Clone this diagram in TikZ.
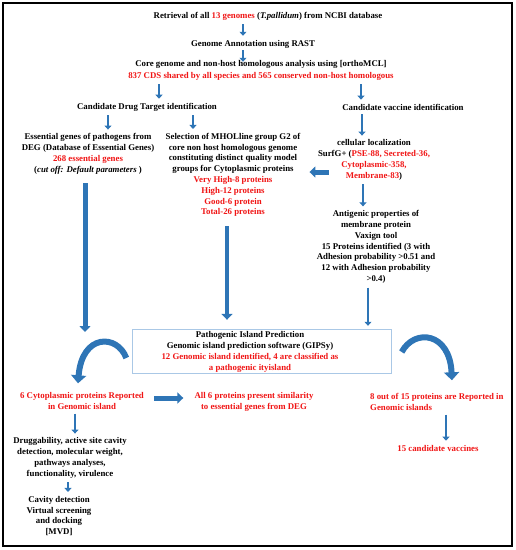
\documentclass[tikz,border=0pt]{standalone}
\usepackage{fontspec}
\setmainfont{Liberation Serif}
\usetikzlibrary{arrows.meta,positioning}
\definecolor{arrblue}{RGB}{46,117,182}
\definecolor{hired}{RGB}{240,20,20}
\definecolor{boxblue}{RGB}{170,200,230}

\begin{document}
\begin{tikzpicture}[x=1pt,y=-1pt,
    txt/.style={font=\bfseries\fontsize{8.8}{10.8}\selectfont, align=center, inner sep=1pt},
    hl/.style={txt, text=hired},
    arr/.style={arrblue, line width=2.6pt, shorten <=3pt, shorten >=3pt, -{Triangle[length=4pt,width=7pt]}},
    fatarr/.style={arrblue, line width=5pt, -{Triangle[length=6pt,width=11pt]}},
    bendarr/.style={arrblue, line width=6pt, -{Triangle[length=8pt,width=15pt]}},
    gipbox/.style={draw=boxblue, thin, minimum width=259pt, minimum height=44pt}
]
    \useasboundingbox (0,0) rectangle (516,550);
    \draw[line width=2pt] (3,3) rectangle (512,546);

    % Pipeline head
    \node[txt] (r1) at (268,16) {Retrieval of all \textcolor{hired}{13 genomes} (\textit{T.pallidum}) from NCBI database};
    \node[txt] (r2) at (253,44) {Genome Annotation using RAST};
    \node[txt, font=\bfseries\fontsize{8.8}{12}\selectfont] (r3) at (261,70)
        {Core genome and non-host homologous analysis using [orthoMCL]\\
         \textcolor{hired}{837 CDS shared by all species and 565 conserved non-host homologous}};

    % Two branches
    \node[txt] (dt) at (147,107) {Candidate Drug Target identification};
    \node[txt] (vc) at (403,107) {Candidate vaccine identification};

    % Drug target branch
    \node[txt] (eg) at (88,154) {Essential genes of pathogens from\\DEG (Database of  Essential Genes)\\
        \textcolor{hired}{268 essential genes}\\(\textit{cut off: Default parameters} )};
    \node[txt] (sel) at (233,175) {Selection of MHOLline group G2 of\\core non host homologous genome\\
        constituting distinct quality model\\groups  for  Cytoplasmic proteins\\
        \textcolor{hired}{Very High-8 proteins}\\\textcolor{hired}{High-12 proteins}\\
        \textcolor{hired}{Good-6 protein}\\\textcolor{hired}{Total-26 proteins}};

    % Vaccine branch
    \node[txt] (surf) at (374,160) {cellular localization\\SurfG+ (\textcolor{hired}{PSE-88,  Secreted-36,}\\
        \textcolor{hired}{Cytoplasmic-358,}\\\textcolor{hired}{Membrane-83})};
    \node[txt] (ant) at (376,247) {Antigenic properties of\\membrane protein\\Vaxign tool\\
        15 Proteins identified (3 with\\Adhesion probability >0.51 and\\12 with Adhesion probability\\>0.4)};

    % Island prediction
    \node[gipbox] (gip) at (262,351) {};
    \node[txt] (giptxt) at (250,352) {Pathogenic Island  Prediction\\Genomic island prediction software (GIPSy)\\
        \textcolor{hired}{12 Genomic island identified, 4 are classified as}\\\textcolor{hired}{a pathogenic ityisland}};

    % Results
    \node[hl] (cyt) at (82,401) {6 Cytoplasmic proteins Reported\\in Genomic island};
    \node[hl] (sim) at (254,402) {All 6 proteins  present similarity\\to essential genes from DEG};
    \node[hl, align=left, anchor=west] (eight) at (369,402) {8 out of 15 proteins are Reported in\\Genomic islands};
    \node[txt] (drug) at (70,458) {Druggability, active site cavity\\detection, molecular weight,\\
        pathways analyses,\\functionality, virulence};
    \node[txt] (cav) at (59,516) {Cavity detection\\Virtual screening\\and docking\\{}[MVD]};
    \node[hl] (cand) at (438,448) {15 candidate vaccines};

    % Arrows
    \draw[arr] ([xshift=-25]r1.south) -- ([xshift=-25]r1.south |- r2.north);
    \draw[arr, shorten <=1pt, shorten >=-3pt] ([xshift=-10]r2.south) -- ([xshift=-10]r2.south |- r3.north);
    \draw[arr] ([xshift=-102]r3.south) -- ([xshift=-102]r3.south |- dt.north);
    \draw[arr] ([xshift=100]r3.south) -- ([xshift=100]r3.south |- vc.north);
    \draw[arr] ([xshift=-39]dt.south) -- ([xshift=-39]dt.south |- eg.north);
    \draw[arr] ([xshift=46]dt.south) -- ([xshift=46]dt.south |- sel.north);
    \draw[arr] ([xshift=-41]vc.south) -- ([xshift=-41]vc.south |- surf.north);
    \draw[fatarr, shorten >=-4pt] ([xshift=12,yshift=-12]surf.west) -- ([xshift=12,yshift=-12]surf.west -| sel.east);
    \draw[arr] ([xshift=-11]surf.south) -- ([xshift=-11]surf.south |- ant.north);
    \draw[arr] ([xshift=-8]ant.south) -- ([xshift=-8]ant.south |- gip.north);
    \coordinate (egend) at (85,332);
    \draw[fatarr, shorten <=8pt] (egend |- eg.south) -- (egend);
    \draw[fatarr, line width=4pt, shorten <=8pt, shorten >=9pt] ([xshift=-6]sel.south) -- ([xshift=-6]sel.south |- gip.north);
    \draw[bendarr] ([xshift=-6,yshift=-7]gip.west) .. controls +(-9,-24) and +(4,-50) .. ([xshift=-4,yshift=8]cyt.north);
    \draw[bendarr] ([xshift=10,yshift=-1]gip.east) .. controls +(13,-24) and +(-2,-48) .. ([xshift=15,yshift=12]eight.north);
    \draw[fatarr] ([xshift=9,yshift=3]cyt.east) -- ([xshift=-10,yshift=3]cyt.east -| sim.west);
    \draw[arr] ([xshift=-7]cyt.south) -- ([xshift=-7]cyt.south |- drug.north);
    \draw[arr] ([xshift=-2]drug.south) -- ([xshift=-2]drug.south |- cav.north);
    \draw[arr] ([xshift=8]cand.north |- eight.south) -- ([xshift=8]cand.north);
\end{tikzpicture}
\end{document}
